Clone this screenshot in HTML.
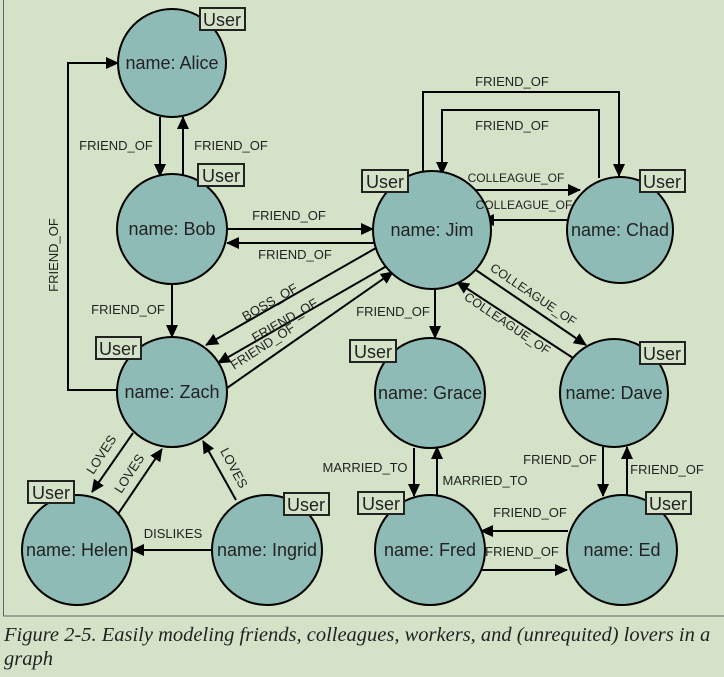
<!DOCTYPE html><html><head><style>body{margin:0;background:#d4e3c8;}svg{display:block}</style></head><body>
<svg width="724" height="677" xmlns="http://www.w3.org/2000/svg" font-family="Liberation Sans, sans-serif">
<defs><marker id="a" markerWidth="13" markerHeight="12" refX="12" refY="6" orient="auto" markerUnits="userSpaceOnUse"><path d="M0,0 L13,6 L0,12z" fill="#000"/></marker></defs>
<rect x="0" y="0" width="724" height="677" fill="#d4e3c8"/>
<rect x="3.5" y="-2" width="730" height="618" fill="none" stroke="#666" stroke-width="1"/>
<g stroke="#000" stroke-width="2" fill="none" marker-end="url(#a)">
<line x1="160" y1="117" x2="160" y2="176"/>
<line x1="183" y1="176" x2="183" y2="117"/>
<polyline points="117,390 68,390 68,63 118,63"/>
<line x1="227" y1="229" x2="373" y2="229"/>
<line x1="375" y1="243" x2="227" y2="243"/>
<line x1="172" y1="284" x2="172" y2="337"/>
<line x1="376" y1="248" x2="206" y2="345"/>
<line x1="385" y1="267" x2="218" y2="363"/>
<line x1="227" y1="388" x2="393" y2="272"/>
<polyline points="423,172 423,92 619,92 619,176"/>
<polyline points="599,178 599,110 442,110 442,174"/>
<line x1="470" y1="190" x2="580" y2="190"/>
<line x1="567" y1="220" x2="482" y2="220"/>
<line x1="435" y1="289" x2="435" y2="338"/>
<line x1="470" y1="266" x2="586" y2="345"/>
<line x1="573" y1="358" x2="457" y2="282"/>
<line x1="414" y1="448" x2="414" y2="496"/>
<line x1="437" y1="496" x2="437" y2="447"/>
<line x1="603" y1="447" x2="603" y2="496"/>
<line x1="627" y1="496" x2="627" y2="447"/>
<line x1="568" y1="531" x2="481" y2="531"/>
<line x1="478" y1="570" x2="567" y2="570"/>
<line x1="133" y1="433" x2="92" y2="492"/>
<line x1="118" y1="514" x2="162" y2="449"/>
<line x1="236" y1="500" x2="203" y2="441"/>
<line x1="212" y1="550" x2="132" y2="550"/>
</g>
<g fill="#8fbbb6" stroke="#000" stroke-width="2">
<circle cx="172" cy="63" r="54"/><circle cx="172" cy="229" r="55"/><circle cx="432" cy="230" r="59"/><circle cx="620" cy="230" r="53"/>
<circle cx="172" cy="392" r="55"/><circle cx="430" cy="393" r="55"/><circle cx="614" cy="393" r="54"/>
<circle cx="77" cy="550" r="55"/><circle cx="267" cy="550" r="55"/><circle cx="430" cy="550" r="55"/><circle cx="622" cy="550" r="55"/>
</g>
<g font-size="18" fill="#222" text-anchor="middle">
<text x="172" y="69">name: Alice</text><text x="172" y="235">name: Bob</text><text x="432" y="236">name: Jim</text><text x="620" y="236">name: Chad</text>
<text x="172" y="398">name: Zach</text><text x="430" y="399">name: Grace</text><text x="614" y="399">name: Dave</text>
<text x="77" y="556">name: Helen</text><text x="267" y="556">name: Ingrid</text><text x="430" y="556">name: Fred</text><text x="622" y="556">name: Ed</text>
</g>
<g fill="#d4e3c8" stroke="#222" stroke-width="2">
<rect x="200" y="8" width="45" height="22"/><rect x="198" y="164" width="46" height="22"/><rect x="362" y="170" width="46" height="22"/><rect x="640" y="170" width="45" height="22"/>
<rect x="96" y="337" width="45" height="22"/><rect x="350" y="340" width="46" height="22"/><rect x="640" y="342" width="45" height="22"/>
<rect x="28" y="481" width="46" height="22"/><rect x="284" y="493" width="45" height="22"/><rect x="358" y="492" width="46" height="22"/><rect x="646" y="492" width="45" height="22"/>
</g>
<g font-size="18" fill="#222" text-anchor="middle">
<text x="222" y="26">User</text><text x="221" y="182">User</text><text x="385" y="188">User</text><text x="662" y="188">User</text>
<text x="118" y="355">User</text><text x="373" y="358">User</text><text x="662" y="360">User</text>
<text x="51" y="499">User</text><text x="306" y="511">User</text><text x="381" y="510">User</text><text x="668" y="510">User</text>
</g>
<g font-size="13" fill="#222" text-anchor="middle">
<text x="116" y="150">FRIEND_OF</text><text x="231" y="150">FRIEND_OF</text>
<text transform="translate(58,255) rotate(-90)">FRIEND_OF</text>
<text x="289" y="220">FRIEND_OF</text><text x="295" y="259">FRIEND_OF</text>
<text x="128" y="314">FRIEND_OF</text>
<text transform="translate(272,306) rotate(-30)">BOSS_OF</text>
<text transform="translate(287,324) rotate(-30)">FRIEND_OF</text>
<text transform="translate(265,350) rotate(-33)">FRIEND_OF</text>
<text x="512" y="86">FRIEND_OF</text><text x="512" y="130">FRIEND_OF</text>
<text x="516" y="182" font-size="12">COLLEAGUE_OF</text><text x="524" y="209" font-size="12">COLLEAGUE_OF</text>
<text x="393" y="316">FRIEND_OF</text>
<text transform="translate(531,298) rotate(34)" font-size="12.5">COLLEAGUE_OF</text>
<text transform="translate(505,327) rotate(34)" font-size="12.5">COLLEAGUE_OF</text>
<text x="365" y="472">MARRIED_TO</text><text x="485" y="485">MARRIED_TO</text>
<text x="560" y="464">FRIEND_OF</text><text x="667" y="474">FRIEND_OF</text>
<text x="530" y="517">FRIEND_OF</text><text x="522" y="556">FRIEND_OF</text>
<text transform="translate(105,457) rotate(-57)">LOVES</text>
<text transform="translate(133,476) rotate(-57)">LOVES</text>
<text transform="translate(230,470) rotate(62)">LOVES</text>
<text x="173" y="538">DISLIKES</text>
</g>
<g font-family="Liberation Serif, serif" font-style="italic" font-size="20.5" fill="#222">
<text x="4" y="641">Figure 2-5. Easily modeling friends, colleagues, workers, and (unrequited) lovers in a</text>
<text x="4" y="665">graph</text>
</g>
</svg></body></html>
